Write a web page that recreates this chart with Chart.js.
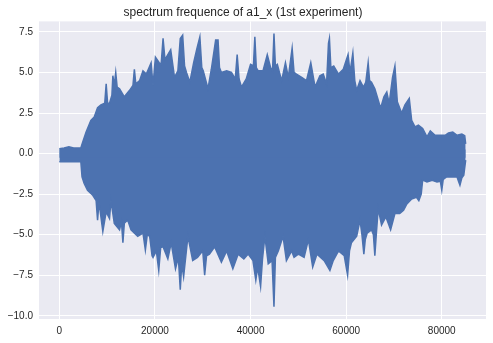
<!DOCTYPE html>
<html>
<head>
<meta charset="utf-8">
<script src="https://cdn.jsdelivr.net/npm/chart.js@4"></script>
<style>
  html, body { margin: 0; padding: 0; background: #fff; }
  #wrap { width: 493px; height: 343px; }
</style>
</head>
<body>
<div id="wrap"><canvas id="signal"></canvas></div>
<script>
// upper envelope of the a1_x signal (sample index, amplitude)
const upperX = [0, 1000, 2000, 3000, 4500, 4900, 5600, 6600, 7300, 8000, 8700, 9500, 9800, 10100, 10500, 11000, 11200, 11500, 11800, 12100, 12600, 13600, 14700, 15400, 15700, 16000, 16800, 17500, 18200, 19200, 19600, 20100, 20900, 21300, 21700, 22100, 22400, 23300, 24100, 24800, 25300, 25800, 26200, 26600, 27300, 28100, 28800, 29400, 29800, 30100, 31100, 31800, 32700, 33200, 33500, 33900, 35000, 36000, 36800, 37200, 37600, 38100, 39100, 40000, 40600, 40900, 41200, 41600, 42000, 42600, 43500, 44200, 44600, 44900, 45200, 45600, 46500, 47300, 47900, 48700, 49100, 49600, 50700, 51700, 52600, 53500, 54500, 55200, 55900, 56300, 56500, 56800, 57400, 58400, 59400, 60400, 60800, 61400, 61800, 62200, 62900, 63600, 64100, 64600, 64900, 65300, 66000, 66700, 67200, 67900, 68500, 69000, 69700, 70200, 70700, 71600, 72300, 73200, 73700, 74400, 75100, 76000, 76900, 77600, 78600, 79700, 80700, 81400, 82300, 83200, 84200, 84800, 85000];
const upperY = [0.3, 0.35, 0.42, 0.35, 0.35, 0.72, 1.33, 2.05, 2.26, 2.83, 3.0, 3.1, 4.3, 3.1, 3.1, 3.6, 4.8, 4.2, 5.0, 4.1, 4.0, 3.5, 3.9, 4.2, 5.2, 4.3, 4.5, 5.1, 4.9, 5.6, 4.2, 5.95, 5.6, 5.5, 7.1, 5.8, 5.95, 6.4, 4.7, 5.1, 7.1, 7.3, 5.4, 5.0, 4.4, 5.6, 6.5, 7.2, 5.3, 5.1, 4.0, 5.2, 7.0, 7.0, 5.3, 5.0, 5.1, 5.0, 4.6, 6.1, 4.6, 4.1, 4.6, 5.5, 5.4, 7.2, 5.3, 5.1, 5.1, 5.1, 6.1, 5.3, 5.1, 7.4, 5.4, 5.5, 4.5, 5.6, 4.7, 6.5, 5.0, 4.9, 4.7, 4.5, 5.6, 4.1, 4.8, 4.9, 4.3, 6.8, 7.1, 5.3, 5.4, 4.9, 5.2, 6.1, 5.0, 6.2, 4.5, 3.9, 4.5, 4.1, 4.4, 5.6, 4.5, 4.4, 4.0, 3.3, 2.8, 3.5, 3.8, 3.1, 4.7, 5.4, 3.2, 2.5, 3.0, 3.4, 2.05, 1.65, 1.75, 1.54, 1.03, 1.4, 1.13, 1.13, 1.13, 1.27, 1.33, 1.13, 1.2, 1.1, 0.6];

// lower envelope
const lowerX = [0, 2000, 4500, 4750, 5200, 5900, 7000, 7700, 8000, 8300, 9100, 9800, 10500, 10800, 11500, 12600, 13000, 13300, 13600, 14300, 15000, 16400, 17500, 18000, 18400, 18900, 19400, 19600, 20300, 20800, 21200, 21700, 22700, 23400, 24300, 24900, 25300, 25600, 26000, 26900, 27900, 28900, 30000, 30400, 30800, 31400, 32500, 33900, 35000, 36300, 37400, 38600, 39500, 40500, 41100, 41500, 42100, 42500, 43000, 43700, 44500, 44900, 45200, 45800, 46800, 47500, 48600, 49100, 50000, 51200, 52100, 53000, 53900, 55400, 56600, 57300, 58400, 59600, 60300, 60700, 61100, 62200, 62900, 63300, 63700, 64000, 64400, 65300, 65700, 66000, 66300, 66700, 67400, 68300, 69300, 70200, 71200, 72000, 72700, 73700, 74700, 75200, 75700, 76000, 76900, 78000, 79000, 79700, 80000, 80300, 81000, 82200, 83200, 83500, 83800, 84200, 84600, 85000];
const lowerY = [-0.5, -0.5, -0.5, -1.44, -1.85, -2.26, -2.57, -2.9, -4.1, -3.0, -4.8, -3.6, -4.0, -2.9, -4.3, -4.7, -4.2, -5.5, -4.3, -4.1, -4.7, -5.1, -4.9, -5.95, -5.0, -5.1, -6.3, -6.4, -6.0, -7.2, -5.8, -5.75, -6.5, -5.5, -7.1, -6.4, -8.4, -6.8, -7.6, -5.1, -6.6, -6.4, -6.0, -7.5, -6.3, -6.2, -5.75, -6.7, -6.0, -7.1, -6.2, -6.5, -6.2, -6.6, -7.8, -7.0, -8.2, -6.5, -5.1, -6.8, -6.6, -9.45, -6.4, -6.0, -5.1, -6.6, -6.0, -6.4, -6.2, -6.4, -5.3, -7.0, -6.2, -6.6, -7.2, -6.6, -6.0, -6.3, -7.5, -6.0, -5.5, -5.1, -4.1, -5.0, -6.2, -5.3, -4.9, -4.7, -5.0, -6.3, -5.0, -3.4, -4.4, -3.9, -4.7, -3.7, -3.7, -3.5, -3.1, -2.8, -2.7, -2.9, -2.5, -1.64, -1.75, -1.64, -1.75, -1.7, -2.26, -1.6, -1.44, -1.44, -1.44, -1.7, -1.95, -1.5, -1.33, -0.4];

const xTicks = [0, 20000, 40000, 60000, 80000];
const yTicks = [-10, -7.5, -5, -2.5, 0, 2.5, 5, 7.5];

const blue = 'rgb(76, 114, 176)';
const ink = '#262626';
const font = 'Liberation Sans, Arial, sans-serif';

const toPoints = (xs, ys) => xs.map((x, i) => ({ x: x, y: ys[i] }));

// grey panel behind the grid, seaborn style
const panel = {
  id: 'panel',
  beforeDraw(chart) {
    const a = chart.chartArea;
    const c = chart.ctx;
    c.save();
    c.fillStyle = '#EAEAF2';
    c.fillRect(a.left, a.top, a.right - a.left, a.bottom - a.top);
    c.restore();
  }
};

new Chart(document.getElementById('signal'), {
  type: 'line',
  data: {
    datasets: [
      // both halves fill a little past zero so no seam shows between them
      { data: toPoints(upperX, upperY), fill: { value: -0.25 } },
      { data: toPoints(lowerX, lowerY), fill: { value: 0.25 } }
    ]
  },
  options: {
    responsive: true,
    maintainAspectRatio: false,
    animation: false,
    layout: { padding: { top: 0, right: 7, bottom: 0, left: 0 } },
    elements: {
      line: { borderColor: blue, backgroundColor: blue, borderWidth: 1.5, tension: 0 },
      point: { radius: 0 }
    },
    plugins: {
      legend: { display: false },
      tooltip: { enabled: false },
      title: {
        display: true,
        text: 'spectrum frequence of a1_x (1st experiment)',
        color: ink,
        font: { family: font, size: 12, weight: 'normal' },
        padding: { top: 5, bottom: 2 }
      }
    },
    scales: {
      x: {
        type: 'linear',
        min: -4250,
        max: 89250,
        afterBuildTicks: s => { s.ticks = xTicks.map(v => ({ value: v })); },
        afterFit: s => { s.height = 24; },
        grid: { color: '#fff', lineWidth: 1, drawTicks: false },
        border: { display: false },
        ticks: {
          color: ink,
          padding: 6,
          font: { family: font, size: 10 },
          callback: v => String(v)
        }
      },
      y: {
        min: -10.2,
        max: 8.15,
        afterBuildTicks: s => { s.ticks = yTicks.map(v => ({ value: v })); },
        afterFit: s => { s.width = 39; },
        grid: { color: '#fff', lineWidth: 1, drawTicks: false },
        border: { display: false },
        ticks: {
          color: ink,
          padding: 6,
          font: { family: font, size: 10 },
          callback: v => v.toFixed(1).replace('-', '\u2212')
        }
      }
    }
  },
  plugins: [panel]
});
</script>
</body>
</html>
